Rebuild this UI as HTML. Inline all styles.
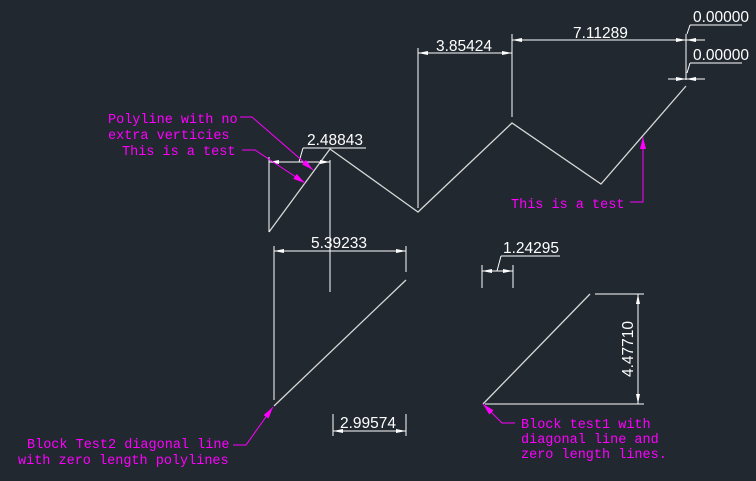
<!DOCTYPE html>
<html><head><meta charset="utf-8"><style>
html,body{margin:0;padding:0;background:#212830;}
svg{display:block}
.w{fill:#fff;font-family:"Liberation Sans",sans-serif;font-size:15.5px}
.m{fill:#ff00ff;font-family:"Liberation Mono",monospace;font-size:13.5px}
</style></head><body>
<svg width="756" height="481" viewBox="0 0 756 481" xmlns="http://www.w3.org/2000/svg">
<rect width="756" height="481" fill="#212830"/>
<defs>
<marker id="am" markerWidth="12" markerHeight="6" refX="12" refY="3" orient="auto" markerUnits="userSpaceOnUse"><path d="M0,0 L12,3 L0,6z" fill="#ff00ff"/></marker>
</defs>
<g stroke="#d8d8d8" stroke-width="1.3" fill="none">
<polyline points="269,232 330,149 418,212 512,123 601,184 686,86"/>
<line x1="406" y1="280" x2="274" y2="406"/>
<line x1="483" y1="404" x2="590" y2="294"/>
</g>
<g stroke="#fff" stroke-width="1" fill="none">
<line x1="418" y1="208" x2="418" y2="48"/>
<line x1="512" y1="117" x2="512" y2="34"/>
<line x1="418" y1="53" x2="512" y2="53"/>
<line x1="512" y1="40" x2="686" y2="40"/>
<line x1="686" y1="34" x2="686" y2="80"/>
<line x1="668" y1="40" x2="705" y2="40"/>
<line x1="668" y1="79" x2="705" y2="79"/>
<line x1="687" y1="34" x2="690" y2="25"/><line x1="690" y1="25" x2="742" y2="25"/>
<line x1="687" y1="73" x2="690" y2="63"/><line x1="690" y1="63" x2="742" y2="63"/>
<line x1="269" y1="157" x2="269" y2="232"/>
<line x1="330" y1="160" x2="330" y2="292"/>
<line x1="269" y1="162" x2="330" y2="162"/>
<line x1="299" y1="162" x2="303" y2="148"/><line x1="303" y1="148" x2="366" y2="148"/>
<line x1="274" y1="246" x2="274" y2="400"/>
<line x1="406" y1="246" x2="406" y2="272"/>
<line x1="274" y1="251" x2="406" y2="251"/>
<line x1="333" y1="414" x2="333" y2="436"/>
<line x1="406" y1="414" x2="406" y2="436"/>
<line x1="333" y1="431" x2="406" y2="431"/>
<line x1="482" y1="265" x2="482" y2="288"/>
<line x1="513" y1="265" x2="513" y2="288"/>
<line x1="482" y1="271" x2="513" y2="271"/>
<line x1="497" y1="271" x2="501" y2="256"/><line x1="501" y1="256" x2="560" y2="256"/>
<line x1="595" y1="294" x2="644" y2="294"/>
<line x1="485" y1="404" x2="644" y2="404"/>
<line x1="638" y1="294" x2="638" y2="404"/>
</g>
<g fill="#fff">
<path d="M418,53 l10,-2 v4z M512,53 l-10,-2 v4z M512,40 l10,-2 v4z M686,40 l-10,-2 v4z"/>
<path d="M269,162 l10,-2 v4z M330,162 l-10,-2 v4z M274,251 l10,-2 v4z M406,251 l-10,-2 v4z"/>
<path d="M333,431 l10,-2 v4z M406,431 l-10,-2 v4z M482,271 l10,-2 v4z M513,271 l-10,-2 v4z"/>
<path d="M638,294 l-2,10 h4z M638,404 l-2,-10 h4z M686,40 l10,-2 v4z M686,79 l-10,-2 v4z M686,79 l10,-2 v4z"/>
</g>
<g class="w">
<text x="436" y="51">3.85424</text>
<text x="573" y="38">7.11289</text>
<text x="693" y="22">0.00000</text>
<text x="693" y="60">0.00000</text>
<text x="307" y="145">2.48843</text>
<text x="311" y="248">5.39233</text>
<text x="340" y="428">2.99574</text>
<text x="503" y="253">1.24295</text>
<text x="0" y="0" transform="translate(633,349) rotate(-90)" text-anchor="middle">4.47710</text>
</g>
<g stroke="#ff00ff" stroke-width="1" fill="none">
<polyline points="240,117 252,117 313,170" marker-end="url(#am)"/>
<polyline points="242,150 255,150 305,183" marker-end="url(#am)"/>
<polyline points="630,202 643,202 643,137" marker-end="url(#am)"/>
<polyline points="233,445 246,445 273,407" marker-end="url(#am)"/>
<polyline points="515,423 502,423 483,404" marker-end="url(#am)"/>
</g>
<g class="m">
<text x="108" y="123">Polyline with no</text>
<text x="108" y="139">extra verticies</text>
<text x="122" y="155">This is a test</text>
<text x="511" y="208">This is a test</text>
<text x="27" y="448">Block Test2 diagonal line</text>
<text x="18" y="464">with zero length polylines</text>
<text x="521" y="428">Block test1 with</text>
<text x="521" y="443">diagonal line and</text>
<text x="521" y="458">zero length lines.</text>
</g>
</svg>
</body></html>
